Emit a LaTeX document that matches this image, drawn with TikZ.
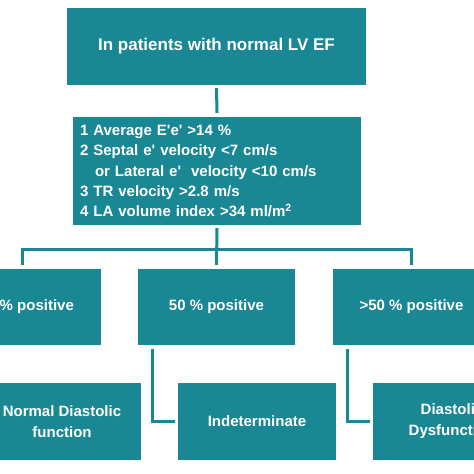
\documentclass[tikz,border=0pt]{standalone}
\usepackage{fontspec}
\newfontfamily\lsans{Liberation Sans}
\definecolor{teal1}{HTML}{1A8795}
\begin{document}
\begin{tikzpicture}[x=1pt,y=-1pt,
  box/.style={rectangle,fill=teal1,inner sep=0pt,text=white,font=\lsans\bfseries,align=center},
  link/.style={draw=teal1,line width=3pt}]
\useasboundingbox (0,0) rectangle (474,474);
\clip (0,0) rectangle (474,474);
\fill[white] (0,0) rectangle (474,474);
\node[box,minimum width=299pt,minimum height=77pt,font=\lsans\bfseries\fontsize{17}{20}\selectfont] (top) at (216.5,46.5) {In patients with normal LV EF};
\node[box,minimum width=288pt,minimum height=108pt,text width=274pt,align=left,font=\lsans\bfseries\fontsize{15}{20.3}\selectfont] (crit) at (217,171)
 {1 Average E'e' >14 \%\\
  2 Septal e' velocity <7 cm/s\\
  \hspace*{15pt}or Lateral e'\ \ velocity <10 cm/s\\
  3 TR velocity >2.8 m/s\\
  4 LA volume index >34 ml/m\textsuperscript{2}};
\tikzset{mid/.style={box,minimum width=157pt,minimum height=76pt,font=\lsans\bfseries\fontsize{15}{20}\selectfont},
  bot/.style={box,minimum width=158pt,minimum height=77pt,font=\lsans\bfseries\fontsize{15}{21}\selectfont}}
\node[mid] (m1) at (22,307) {<50 \% positive};
\node[mid] (m2) at (216.5,307) {50 \% positive};
\node[mid] (m3) at (411.5,307) {>50 \% positive};
\node[bot] (b1) at (62,421.5) {Normal Diastolic\\function};
\node[bot] (b2) at (257,421.5) {Indeterminate};
\node[bot] (b3) at (452,421.5) {Diastolic\\Dysfunction};
\draw[link] ([yshift=-3pt]top.south) -- ([yshift=4pt]crit.north);
\draw[link] ([yshift=-3pt]crit.south) -- ([yshift=4pt]m2.north);
\draw[link] ([yshift=4pt]m1.north) -- ++(0,-15) -| ([yshift=4pt]m3.north);
\draw[link] ([xshift=-64.5pt,yshift=-4pt]m2.south) |- ([xshift=-3pt]b2.west);
\draw[link] ([xshift=-64.5pt,yshift=-4pt]m3.south) |- ([xshift=-3pt]b3.west);
\end{tikzpicture}
\end{document}
